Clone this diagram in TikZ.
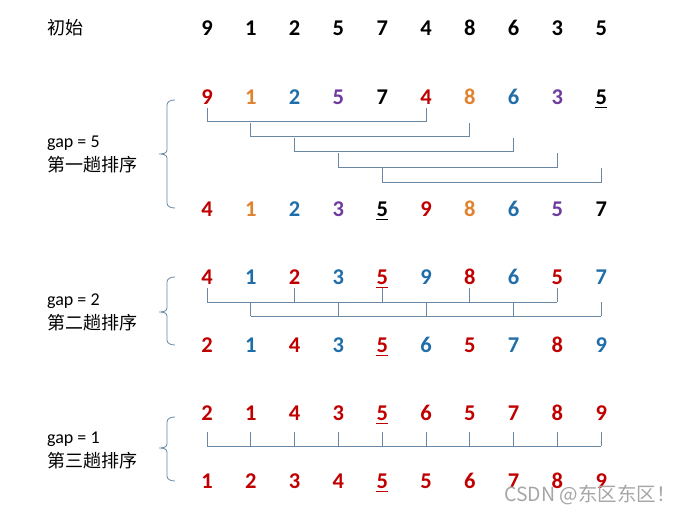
\documentclass[tikz,border=0pt]{standalone}
\usepackage{fontspec}
\setmainfont{Carlito}
\newfontfamily\cjk{Noto Sans CJK SC}
\definecolor{cR}{HTML}{C00000}
\definecolor{cO}{HTML}{E0822E}
\definecolor{cB}{HTML}{1F6EAA}
\definecolor{cP}{HTML}{6E3C9E}
\definecolor{cK}{HTML}{000000}
\definecolor{ln}{HTML}{6A87A3}
\begin{document}
\begin{tikzpicture}[x=1pt,y=-1pt,
  num/.style={font=\fontsize{22.5}{22.5}\selectfont\bfseries, inner sep=0pt, anchor=center},
  lbl/.style={font=\fontsize{18}{18}\selectfont, inner sep=0pt, anchor=west},
  clbl/.style={font=\cjk\fontsize{18}{18}\selectfont, inner sep=0pt, anchor=west},
  conn/.style={draw=ln, line width=0.9pt},
  bracestyle/.style={draw=ln, line width=0.8pt},
  uline/.style={line width=1.8pt}]
\useasboundingbox (0,0) rectangle (683,514);
\fill[white] (0,0) rectangle (683,514);

% initial row
\node[clbl] (init) at (47,28) {初始};
\foreach \v [count=\i from 0] in {9,1,2,5,7,4,8,6,3,5}
  \node[num] (r0\i) at ({207+43.8*\i},28) {\v};

% gap = 5
\foreach \v/\c [count=\i from 0] in {9/cR,1/cO,2/cB,5/cP,7/cK,4/cR,8/cO,6/cB,3/cP,5/cK}
  \node[num,text=\c] (r1a\i) at ({207+43.8*\i},97) {\v};
\foreach \v/\c [count=\i from 0] in {4/cR,1/cO,2/cB,3/cP,5/cK,9/cR,8/cO,6/cB,5/cP,7/cK}
  \node[num,text=\c] (r1b\i) at ({207+43.8*\i},209) {\v};
\draw[uline,cK] ([yshift=-3pt]r1a9.south west) -- ([yshift=-3pt]r1a9.south east);
\draw[uline,cK] ([yshift=-3pt]r1b4.south west) -- ([yshift=-3pt]r1b4.south east);
\foreach \k in {0,...,4} {
  \pgfmathtruncatemacro\j{\k+5}
  \pgfmathsetmacro\h{121.5+15.2*\k}
  \pgfmathsetmacro\ht{\h-14}
  \draw[conn] (r1a\k |- 0,\ht) -- (r1a\k |- 0,\h) -- (r1a\j |- 0,\h) -- (r1a\j |- 0,\ht);
}
\node[lbl] (g1) at (47,143) {gap = 5};
\node[clbl] (c1) at (47,165) {第一趟排序};

% gap = 2
\foreach \v/\c [count=\i from 0] in {4/cR,1/cB,2/cR,3/cB,5/cR,9/cB,8/cR,6/cB,5/cR,7/cB}
  \node[num,text=\c] (r2a\i) at ({207+43.8*\i},277) {\v};
\foreach \v/\c [count=\i from 0] in {2/cR,1/cB,4/cR,3/cB,5/cR,6/cB,5/cR,7/cB,8/cR,9/cB}
  \node[num,text=\c] (r2b\i) at ({207+43.8*\i},345) {\v};
\draw[uline,cR] ([yshift=-3pt]r2a4.south west) -- ([yshift=-3pt]r2a4.south east);
\draw[uline,cR] ([yshift=-3pt]r2b4.south west) -- ([yshift=-3pt]r2b4.south east);
\draw[conn] (r2a0 |- 0,302) -- (r2a8 |- 0,302);
\foreach \k in {0,2,4,6,8}
  \draw[conn] (r2a\k |- 0,288) -- (r2a\k |- 0,302);
\draw[conn] (r2a1 |- 0,316) -- (r2a9 |- 0,316);
\foreach \k in {1,3,5,7,9}
  \draw[conn] (r2a\k |- 0,302) -- (r2a\k |- 0,316);
\node[lbl] (g2) at (47,301) {gap = 2};
\node[clbl] (c2) at (47,323) {第二趟排序};

% gap = 1
\foreach \v [count=\i from 0] in {2,1,4,3,5,6,5,7,8,9}
  \node[num,text=cR] (r3a\i) at ({207+43.8*\i},413) {\v};
\foreach \v [count=\i from 0] in {1,2,3,4,5,5,6,7,8,9}
  \node[num,text=cR] (r3b\i) at ({207+43.8*\i},481) {\v};
\draw[uline,cR] ([yshift=-3pt]r3a4.south west) -- ([yshift=-3pt]r3a4.south east);
\draw[uline,cR] ([yshift=-3pt]r3b4.south west) -- ([yshift=-3pt]r3b4.south east);
\draw[conn] (r3a0 |- 0,446) -- (r3a9 |- 0,446);
\foreach \k in {0,...,9}
  \draw[conn] (r3a\k |- 0,432) -- (r3a\k |- 0,446);
\node[lbl] (g3) at (47,439) {gap = 1};
\node[clbl] (c3) at (47,461) {第三趟排序};

% braces
\foreach \t/\m/\b in {100/154/208, 277/312/345, 417/448/481}
  \draw[bracestyle] (175,\t) to[out=180,in=90] (167,{\t+5}) -- (167,{\m-4})
    to[out=-90,in=0] (159,\m) to[out=0,in=90] (167,{\m+4}) -- (167,{\b-5})
    to[out=-90,in=180] (175,\b);

% watermark
\node[font=\cjk\fontsize{19.5}{19.5}\selectfont, text=black!35, inner sep=0pt, anchor=west] (wm) at (504,495) {CSDN @东区东区！};
\end{tikzpicture}
\end{document}
